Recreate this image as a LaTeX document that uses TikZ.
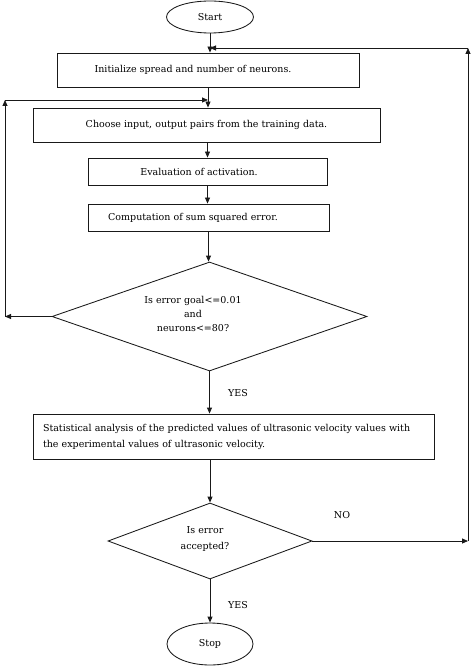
\documentclass[tikz,border=0pt]{standalone}
\usepackage{fontspec}
\setmainfont{DejaVu Serif}
\usetikzlibrary{shapes.geometric,arrows.meta}
\begin{document}
\begin{tikzpicture}[x=1pt,y=-1pt,
  every node/.style={font=\fontsize{9.5}{15}\selectfont},
  line/.style={draw=black!90,line width=0.85pt},
  arr/.style={line,-{Triangle[length=6pt,width=5pt]}},
  procbox/.style={draw=black!90,line width=0.85pt,rectangle,inner sep=0pt},
  term/.style={draw=black!90,line width=0.85pt,ellipse,inner sep=0pt},
  decision/.style={draw=black!90,line width=0.85pt,diamond,inner sep=0pt},
  lbl/.style={inner sep=0pt}]
\useasboundingbox (0,0) rectangle (474,668);
\node[term,minimum width=87pt,minimum height=32pt] (start) at (210,17) {Start};
\node[procbox,minimum width=302pt,minimum height=34pt] (b1) at (208,70) {\hspace*{-30pt}Initialize spread and number of neurons.};
\node[procbox,minimum width=347pt,minimum height=34pt] (b2) at (206.5,125) {Choose input, output pairs from the training data.};
\node[procbox,minimum width=239pt,minimum height=27pt] (b3) at (207.5,171.5) {\hspace*{-17pt}Evaluation of activation.};
\node[procbox,minimum width=241pt,minimum height=27pt] (b4) at (208.5,217.5) {\hspace*{-31pt}Computation of sum squared error.};
\node[decision,minimum width=315pt,minimum height=109pt] (d1) at (209.5,316.5) {};
\node[lbl,align=center,font=\fontsize{9.5}{14}\selectfont] (d1t) at (193,314) {Is error goal<=0.01\\and\\neurons<=80?};
\node[procbox,minimum width=401pt,minimum height=45pt,text width=381pt,inner xsep=10pt,align=left,font=\fontsize{9.5}{16}\selectfont] (b5) at (233.5,436.5) {Statistical analysis of the predicted values of ultrasonic velocity values with\\the experimental values of ultrasonic velocity.};
\node[decision,minimum width=204pt,minimum height=76pt] (d2) at (210,541) {};
\node[lbl,align=center,font=\fontsize{9.5}{16}\selectfont] (d2t) at (205,539) {Is error\\accepted?};
\node[term,minimum width=86pt,minimum height=42pt] (stop) at (210,644) {Stop};
\node[lbl] (yes1) at (238,393) {YES};
\node[lbl] (no) at (342,515) {NO};
\node[lbl] (yes2) at (238,605) {YES};
\coordinate (r1) at (468,541);
\coordinate (r2) at (468,48);
\coordinate (r3) at (210,48);
\coordinate (l1) at (5,316.5);
\coordinate (l2) at (5,100);
\coordinate (l3) at (208,100);
\draw[arr] (start.south) -- (start.south |- b1.north);
\draw[arr] (b1.south) -- (b1.south |- b2.north);
\draw[arr] (b2.south -| b3.north) -- (b3.north);
\draw[arr] (b3.south) -- (b3.south |- b4.north);
\draw[arr] (b4.south) -- (b4.south |- d1.north);
\draw[arr] (d1.south) -- (d1.south |- b5.north);
\draw[arr] (d2.north |- b5.south) -- (d2.north);
\draw[arr] (d2.south) -- (stop.north);
\draw[arr] (d2.east) -- (r1);
\draw[arr] (r1) -- (r2);
\draw[arr] (r2) -- (r3);
\draw[arr] (d1.west) -- (l1);
\draw[arr] (l1) -- (l2);
\draw[arr] (l2) -- (l3);
\end{tikzpicture}
\end{document}
